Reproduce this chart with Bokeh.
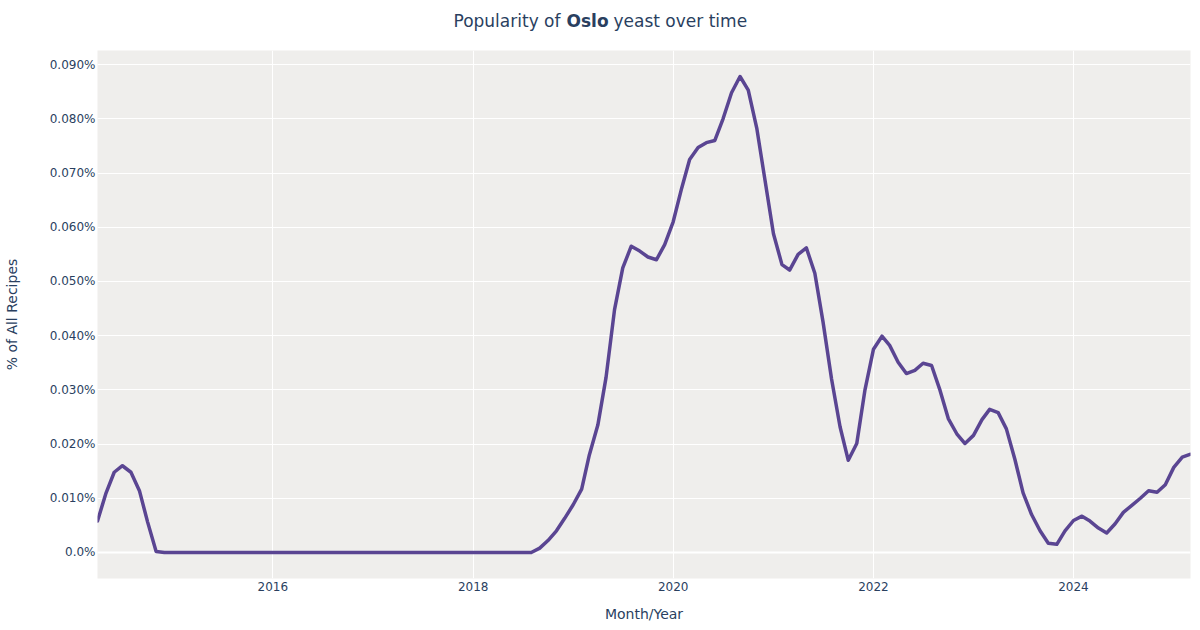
import pandas as pd
from bokeh.plotting import figure
from bokeh.layouts import column
from bokeh.models import FixedTicker, DatetimeTickFormatter, Span, Range1d
from bokeh.core.properties import value
from bokeh.embed import file_html
from bokeh.resources import INLINE

# ---- data (monthly, % of all recipes) ----
first_month = "2014-04-01"
last_month = "2025-03-01"

v2014 = [0.0058, 0.0108, 0.0148, 0.0160, 0.0148, 0.0114, 0.0056, 0.0002, 0.0]  # Apr-Dec
v2015 = [0.0] * 12
v2016 = [0.0] * 12
v2017 = [0.0] * 12
v2018 = [0.0, 0.0, 0.0, 0.0, 0.0, 0.0, 0.0, 0.0, 0.0008, 0.0022, 0.0040, 0.0063]
v2019 = [0.0088, 0.0117, 0.0180, 0.0235, 0.0323, 0.0448, 0.0525, 0.0565, 0.0556, 0.0545, 0.0540, 0.0568]
v2020 = [0.0610, 0.0672, 0.0725, 0.0747, 0.0756, 0.0760, 0.0800, 0.0848, 0.0878, 0.0853, 0.0783, 0.0687]
v2021 = [0.0588, 0.0531, 0.0521, 0.0550, 0.0562, 0.0515, 0.0425, 0.0320, 0.0232, 0.0170, 0.0201, 0.0300]
v2022 = [0.0375, 0.0399, 0.0382, 0.0351, 0.0330, 0.0336, 0.0349, 0.0345, 0.0299, 0.0247, 0.0219, 0.0201]
v2023 = [0.0216, 0.0245, 0.0264, 0.0258, 0.0228, 0.0172, 0.0110, 0.0070, 0.0040, 0.0017, 0.0015, 0.0040]
v2024 = [0.0059, 0.0067, 0.0058, 0.0045, 0.0036, 0.0053, 0.0074, 0.0087, 0.0100, 0.0114, 0.0111, 0.0125]
v2025 = [0.0157, 0.0176, 0.0181]  # Jan-Mar

values = v2014 + v2015 + v2016 + v2017 + v2018 + v2019 + v2020 + v2021 + v2022 + v2023 + v2024 + v2025
months = pd.date_range(first_month, last_month, freq="MS")

tick_years = [2016, 2018, 2020, 2022, 2024]
y_ticks = [0.0, 0.01, 0.02, 0.03, 0.04, 0.05, 0.06, 0.07, 0.08, 0.09]
y_tick_labels = ["0.0%", "0.010%", "0.020%", "0.030%", "0.040%", "0.050%",
                 "0.060%", "0.070%", "0.080%", "0.090%"]

title_parts = ["Popularity of", "Oslo", "yeast over time"]

# ---- styling ----
FONT = "DejaVu Sans"
TXT = "#2a3f5f"
BG = "#efeeec"
LINE = "#5a4592"
TITLE_H = 50
FRAME_W, FRAME_H = 1093, 528
BL, BR = 89, 2

# ---- title strip (mixed weight); frame aligned with the chart frame ----
t = figure(frame_width=FRAME_W, frame_height=TITLE_H,
           min_border_left=BL, min_border_right=BR, min_border_top=0, min_border_bottom=0,
           output_backend="svg", toolbar_location=None,
           x_range=Range1d(0, FRAME_W), y_range=Range1d(0, TITLE_H),
           background_fill_color="white", border_fill_color="white")
t.axis.visible = False
t.grid.visible = False
t.outline_line_color = None
ty = TITLE_H - 20
t.text(x=[356], y=[ty], text=[title_parts[0]], text_font=value(FONT), text_font_size="17px",
       text_color=TXT, text_baseline="middle", text_align="left")
t.text(x=[469], y=[ty], text=[title_parts[1]], text_font=value(FONT), text_font_size="17px",
       text_font_style="bold", text_color=TXT, text_baseline="middle", text_align="left")
t.text(x=[516], y=[ty], text=[title_parts[2]], text_font=value(FONT), text_font_size="17px",
       text_color=TXT, text_baseline="middle", text_align="left")

# ---- main chart ----
p = figure(
    x_axis_type="datetime",
    frame_width=FRAME_W, frame_height=FRAME_H,
    min_border_left=BL, min_border_right=BR, min_border_top=0, min_border_bottom=36,
    output_backend="svg", toolbar_location=None,
    background_fill_color=BG, border_fill_color="white",
)
p.outline_line_color = None
p.x_range = Range1d(pd.Timestamp("2014-04-01"), pd.Timestamp("2025-03-03"))
p.y_range = Range1d(-0.0048, 0.0926)

tick_ms = [pd.Timestamp(f"{y}-01-01").value // 10**6 for y in tick_years]
p.xaxis.ticker = FixedTicker(ticks=tick_ms)
p.xaxis.formatter = DatetimeTickFormatter(
    years="%Y", months="%Y", days="%Y", hours="%Y", hourmin="%Y", minutes="%Y",
    minsec="%Y", seconds="%Y", milliseconds="%Y", microseconds="%Y")
p.yaxis.ticker = FixedTicker(ticks=y_ticks)
p.yaxis.major_label_overrides = {t_: l for t_, l in zip(y_ticks, y_tick_labels)}

for ax in (p.xaxis[0], p.yaxis[0]):
    ax.axis_line_color = None
    ax.major_tick_line_color = None
    ax.minor_tick_line_color = None
    ax.major_tick_out = 0
    ax.major_tick_in = 0
    ax.minor_tick_out = 0
    ax.major_label_text_font = FONT
    ax.major_label_text_font_size = "12px"
    ax.major_label_text_color = TXT
    ax.axis_label_text_font = FONT
    ax.axis_label_text_font_size = "14px"
    ax.axis_label_text_font_style = "normal"
    ax.axis_label_text_color = TXT

p.xaxis.axis_label = "Month/Year"
p.yaxis.axis_label = "% of All Recipes"
p.xaxis.major_label_standoff = 3
p.xaxis.axis_label_standoff = 12
p.yaxis.major_label_standoff = 2
p.yaxis.axis_label_standoff = 27

p.xgrid.ticker = FixedTicker(ticks=tick_ms)
p.xgrid.grid_line_color = "white"
p.xgrid.grid_line_width = 1
p.ygrid.grid_line_color = "white"
p.ygrid.grid_line_width = 1

p.add_layout(Span(location=0, dimension="width", line_color="white", line_width=2, level="underlay"))

p.line(months, values, line_color=LINE, line_width=3.5, line_join="round", line_cap="round")

layout = column(t, p, spacing=0)
open("out.html", "w").write(file_html(layout, INLINE))
